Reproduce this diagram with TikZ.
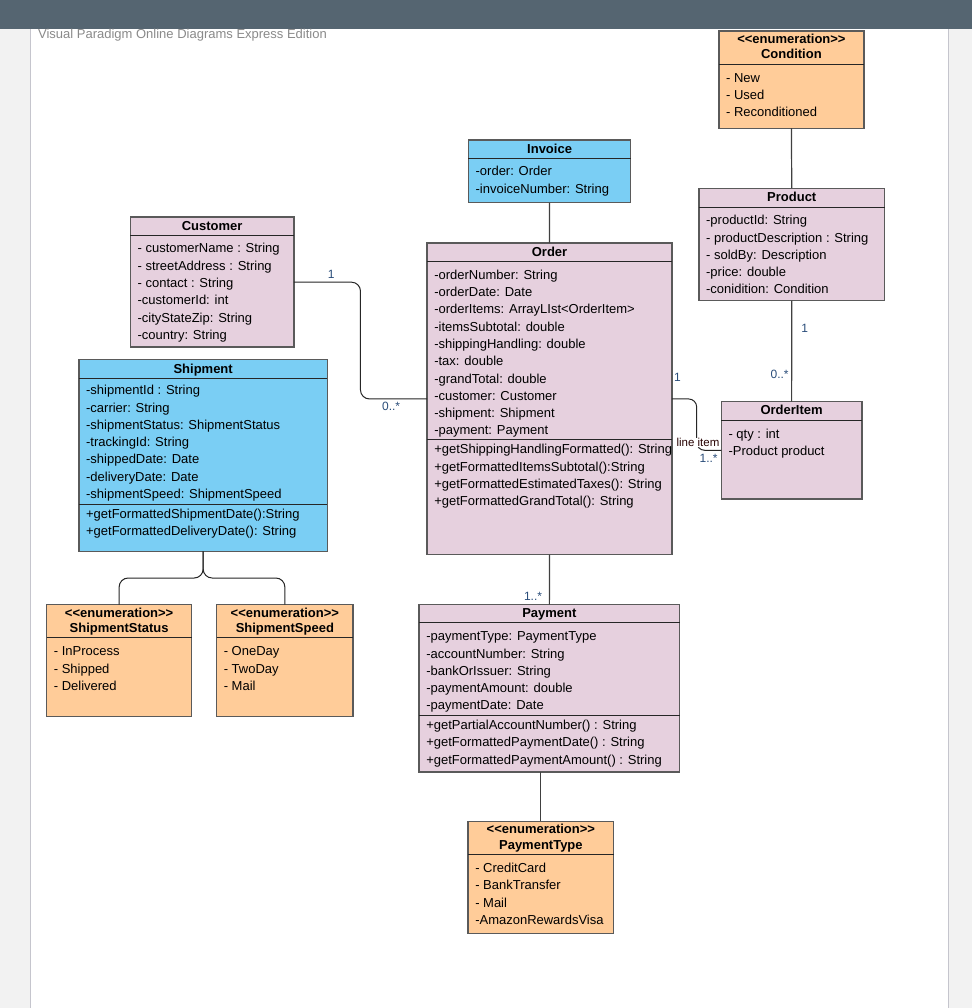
\documentclass[tikz,border=0pt]{standalone}
\usepackage{fontspec}
\setmainfont{Liberation Sans}[Ligatures=TeXOff]
\usetikzlibrary{calc}
\definecolor{pinkfill}{HTML}{E6D0DE}
\definecolor{bluefill}{HTML}{7ACEF4}
\definecolor{orangefill}{HTML}{FFCC99}
\definecolor{bordergray}{HTML}{5A5A5A}
\definecolor{barcolor}{HTML}{556571}
\definecolor{pagegray}{HTML}{F2F2F2}
\definecolor{pageline}{HTML}{C5C5CD}
\definecolor{multcolor}{HTML}{2A4D7A}
\definecolor{titlegray}{HTML}{8A8A8A}
\newcommand\umlrows[4]{%
  \foreach \t [count=\i from 0] in {#4}{%
    \node[attr] (#1-#2\i) at ([xshift=7pt,yshift=-#3pt-0.8pt-\i*17.3pt]#1.north west) {\t};}}
\newcommand\umlsep[2]{\draw[sepline] ([yshift=-#2pt]#1.north west) -- ([yshift=-#2pt]#1.north east);}
\begin{document}
\begin{tikzpicture}[x=1pt,y=-1pt,
  box/.style={draw=bordergray, line width=1.4pt, inner sep=0pt, outer sep=0pt, anchor=north west},
  hdr/.style={font=\fontsize{13}{15}\selectfont\bfseries, inner sep=0pt, anchor=base},
  attr/.style={font=\fontsize{13}{15}\selectfont, inner sep=0pt, anchor=base west},
  sepline/.style={draw=black!85, line width=1pt},
  conn/.style={draw=black!75, line width=1.2pt},
  mult/.style={font=\fontsize{12}{14}\selectfont, text=multcolor, inner sep=0pt}]
% background
\fill[pagegray] (0,0) rectangle (972,1008);
\fill[white] (31,29) rectangle (949,1008);
\draw[pageline, line width=1pt] (31,29) -- (31,1008) (949,29) -- (949,1008);
\fill[barcolor] (0,0) rectangle (972,29);
\useasboundingbox (0,0) rectangle (972,1008);
\node[anchor=base west, inner sep=0pt, text=titlegray, font=\fontsize{13}{15}\selectfont] (title) at (38,39) {Visual Paradigm Online Diagrams Express Edition};

% ---------- boxes ----------
\node[box, fill=pinkfill, minimum width=163.5pt, minimum height=130pt] (customer) at (130.5,217.3) {};
\node[box, fill=pinkfill, minimum width=245pt, minimum height=311.7pt] (order) at (427.3,243.3) {};
\node[box, fill=bluefill, minimum width=162.3pt, minimum height=62.7pt] (invoice) at (468.7,140) {};
\node[box, fill=pinkfill, minimum width=185.7pt, minimum height=112.5pt] (product) at (699.3,188.3) {};
\node[box, fill=orangefill, minimum width=145pt, minimum height=97.3pt] (condition) at (719.3,31) {};
\node[box, fill=pinkfill, minimum width=140.6pt, minimum height=97.6pt] (orderitem) at (721.7,401.7) {};
\node[box, fill=bluefill, minimum width=248.5pt, minimum height=192pt] (shipment) at (79,359.7) {};
\node[box, fill=orangefill, minimum width=145pt, minimum height=111.7pt] (shipstatus) at (46.7,605) {};
\node[box, fill=orangefill, minimum width=136.6pt, minimum height=111.7pt] (shipspeed) at (216.7,605) {};
\node[box, fill=pinkfill, minimum width=260.7pt, minimum height=167.3pt] (payment) at (419.3,605) {};
\node[box, fill=orangefill, minimum width=145.7pt, minimum height=112.3pt] (paytype) at (468.3,821.7) {};

% ---------- Customer ----------
\node[hdr] (customer-h) at ([yshift=-13.5pt]customer.north) {Customer};
\umlsep{customer}{18.5}
\umlrows{customer}{a}{35}{- customerName : String, - streetAddress : String, - contact : String, -customerId: int, -cityStateZip: String, -country: String}

% ---------- Order ----------
\node[hdr] (order-h) at ([yshift=-13pt]order.north) {Order};
\umlsep{order}{18.4}
\umlrows{order}{a}{35.3}{-orderNumber: String, -orderDate: Date, -orderItems: ArrayLIst<OrderItem>, -itemsSubtotal: double, -shippingHandling: double, -tax: double, -grandTotal: double, -customer: Customer, -shipment: Shipment, -payment: Payment}
\umlsep{order}{196.7}
\umlrows{order}{m}{210}{+getShippingHandlingFormatted(): String, +getFormattedItemsSubtotal():String, +getFormattedEstimatedTaxes(): String, +getFormattedGrandTotal(): String}

% ---------- Invoice ----------
\node[hdr] (invoice-h) at ([yshift=-13.3pt]invoice.north) {Invoice};
\umlsep{invoice}{18.7}
\umlrows{invoice}{a}{35}{-order: Order, -invoiceNumber: String}

% ---------- Product ----------
\node[hdr] (product-h) at ([yshift=-13.4pt]product.north) {Product};
\umlsep{product}{19}
\umlrows{product}{a}{35.8}{-productId: String, - productDescription : String, - soldBy: Description, -price: double, -conidition: Condition}

% ---------- Condition ----------
\node[hdr] (condition-s) at ([yshift=-12.3pt]condition.north) {<<enumeration>>};
\node[hdr] (condition-h) at ([yshift=-28pt]condition.north) {Condition};
\umlsep{condition}{33.3}
\umlrows{condition}{a}{50.5}{- New, - Used, - Reconditioned}

% ---------- OrderItem ----------
\node[hdr] (orderitem-h) at ([yshift=-13.3pt]orderitem.north) {OrderItem};
\umlsep{orderitem}{18.6}
\umlrows{orderitem}{a}{36}{- qty : int, -Product product}

% ---------- Shipment ----------
\node[hdr] (shipment-h) at ([yshift=-13.6pt]shipment.north) {Shipment};
\umlsep{shipment}{18.6}
\umlrows{shipment}{a}{34.5}{-shipmentId : String, -carrier: String, -shipmentStatus: ShipmentStatus, -trackingId: String, -shippedDate: Date, -deliveryDate: Date, -shipmentSpeed: ShipmentSpeed}
\umlsep{shipment}{144.6}
\umlrows{shipment}{m}{158}{+getFormattedShipmentDate():String, +getFormattedDeliveryDate(): String}

% ---------- ShipmentStatus ----------
\node[hdr] (shipstatus-s) at ([yshift=-12.3pt]shipstatus.north) {<<enumeration>>};
\node[hdr] (shipstatus-h) at ([yshift=-28pt]shipstatus.north) {ShipmentStatus};
\umlsep{shipstatus}{33.3}
\umlrows{shipstatus}{a}{50.5}{- InProcess, - Shipped, - Delivered}

% ---------- ShipmentSpeed ----------
\node[hdr] (shipspeed-s) at ([yshift=-12.3pt]shipspeed.north) {<<enumeration>>};
\node[hdr] (shipspeed-h) at ([yshift=-28pt]shipspeed.north) {ShipmentSpeed};
\umlsep{shipspeed}{33.3}
\umlrows{shipspeed}{a}{50.5}{- OneDay, - TwoDay, - Mail}

% ---------- Payment ----------
\node[hdr] (payment-h) at ([yshift=-12.6pt]payment.north) {Payment};
\umlsep{payment}{18.3}
\umlrows{payment}{a}{35.3}{-paymentType: PaymentType, -accountNumber: String, -bankOrIssuer: String, -paymentAmount: double, -paymentDate: Date}
\umlsep{payment}{111}
\umlrows{payment}{m}{124}{+getPartialAccountNumber() : String, +getFormattedPaymentDate() : String, +getFormattedPaymentAmount() : String}

% ---------- PaymentType ----------
\node[hdr] (paytype-s) at ([yshift=-12.3pt]paytype.north) {<<enumeration>>};
\node[hdr] (paytype-h) at ([yshift=-28pt]paytype.north) {PaymentType};
\umlsep{paytype}{33.3}
\umlrows{paytype}{a}{50.5}{- CreditCard, - BankTransfer, - Mail, -AmazonRewardsVisa}

% ---------- connectors ----------
\draw[conn] (condition.south) -- (product.north);
\draw[conn] (invoice.south) -- (order.north);
\draw[conn] (product.south) -- (orderitem.north);
\draw[conn] (order.south) -- (payment.north);
\draw[conn] (paytype.north) -- (paytype.north |- payment.south);

\coordinate (co-mid) at ($(customer.east)!0.5!(order.west)$);
\draw[conn, line width=1pt, black!85, rounded corners=9pt] (customer.east) -- (customer.east -| co-mid) -- (co-mid |- order.west) -- (order.west);

\coordinate (oi-mid) at ($(order.east)!0.5!(orderitem.west)$);
\draw[conn, line width=1pt, black!85, rounded corners=8pt] (order.east) -- (order.east -| oi-mid) -- (oi-mid |- orderitem.west) -- (orderitem.west);

\coordinate (brace) at ($(shipment.south)+(0,26.6)$);
\draw[conn, line width=1pt, black!85, rounded corners=9pt] (shipstatus.north) -- (shipstatus.north |- brace) -- (brace) -- (shipment.south);
\draw[conn, line width=1pt, black!85, rounded corners=9pt] (shipspeed.north) -- (shipspeed.north |- brace) -- (brace) -- (shipment.south);

% ---------- labels ----------
\node[mult] (m-cust) at (331.3,274.7) {1};
\node[mult] (m-ord1) at (391.3,407) {0..*};
\node[mult] (m-prod) at (805,328.3) {1};
\node[mult] (m-oi1) at (780,375) {0..*};
\node[mult] (m-ord2) at (677.7,377.3) {1};
\node[font=\fontsize{11.5}{13}\selectfont, fill=white, inner sep=0.5pt, text=black!85!red] (lineitem) at (698.3,442.5) {line item};
\node[mult] (m-oi2) at (709,459) {1..*};
\node[mult] (m-pay) at (533.3,596.7) {1..*};
\end{tikzpicture}
\end{document}
